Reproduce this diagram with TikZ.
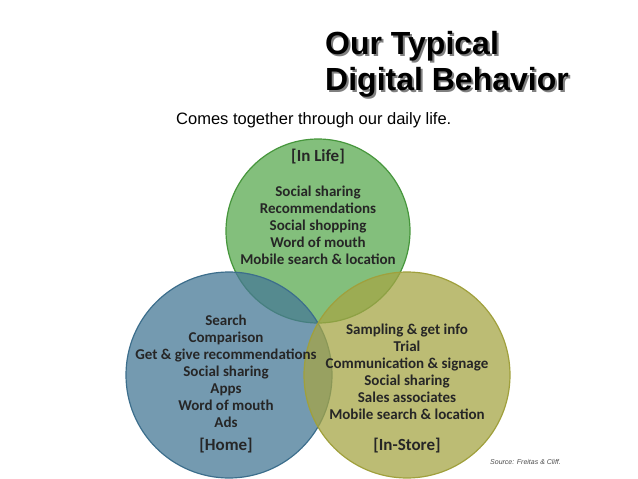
\documentclass[tikz,border=0pt]{standalone}
\usepackage{fontspec}
\setmainfont{Carlito}
\newfontfamily\arial{Liberation Sans}
\begin{document}
\begin{tikzpicture}[x=1pt,y=-1pt,
  circ/.style={line width=1.2pt,fill opacity=0.75},
  lst/.style={align=center,font=\bfseries\fontsize{15}{17}\selectfont,text=black!85},
  lab/.style={font=\bfseries\fontsize{17}{20}\selectfont,text=black!85}]
\useasboundingbox (0,0) rectangle (638,479);
\fill[circ,fill={rgb,255:red,90;green,170;blue,80},draw={rgb,255:red,70;green,150;blue,60}] (318,231) circle (92);
\fill[circ,fill={rgb,255:red,70;green,120;blue,150},draw={rgb,255:red,60;green,110;blue,140}] (229,375) circle (103);
\fill[circ,fill={rgb,255:red,165;green,165;blue,70},draw={rgb,255:red,160;green,160;blue,60}] (407,375) circle (103);
\node[lab] (life) at (318,157) {[In Life]};
\node[lst] (l1) at (318,225) {Social sharing\\Recommendations\\Social shopping\\Word of mouth\\Mobile search \& location};
\node[lst] (l2) at (226,371) {Search\\Comparison\\Get \& give recommendations\\Social sharing\\Apps\\Word of mouth\\Ads};
\node[lab] (home) at (226,446) {[Home]};
\node[lst] (l3) at (407,372) {Sampling \& get info\\Trial\\Communication \& signage\\Social sharing\\Sales associates\\Mobile search \& location};
\node[lab] (store) at (407,446) {[In-Store]};
\node[font=\arial\bfseries\fontsize{32}{36}\selectfont,align=left,anchor=north west,text=black!50,inner sep=0] (tsh) at (327,33) {Our Typical\\Digital Behavior};
\node[font=\arial\bfseries\fontsize{32}{36}\selectfont,align=left,anchor=north west,inner sep=0] (title) at (325,31) {Our Typical\\Digital Behavior};
\node[font=\arial\fontsize{16.5}{19}\selectfont,anchor=west,inner sep=0] (sub) at (176,120) {Comes together through our daily life.};
\node[font=\arial\itshape\fontsize{7}{8}\selectfont,anchor=west,inner sep=0,text=black!70] (src) at (490,462) {Source: Freitas \& Cliff.};
\end{tikzpicture}
\end{document}
